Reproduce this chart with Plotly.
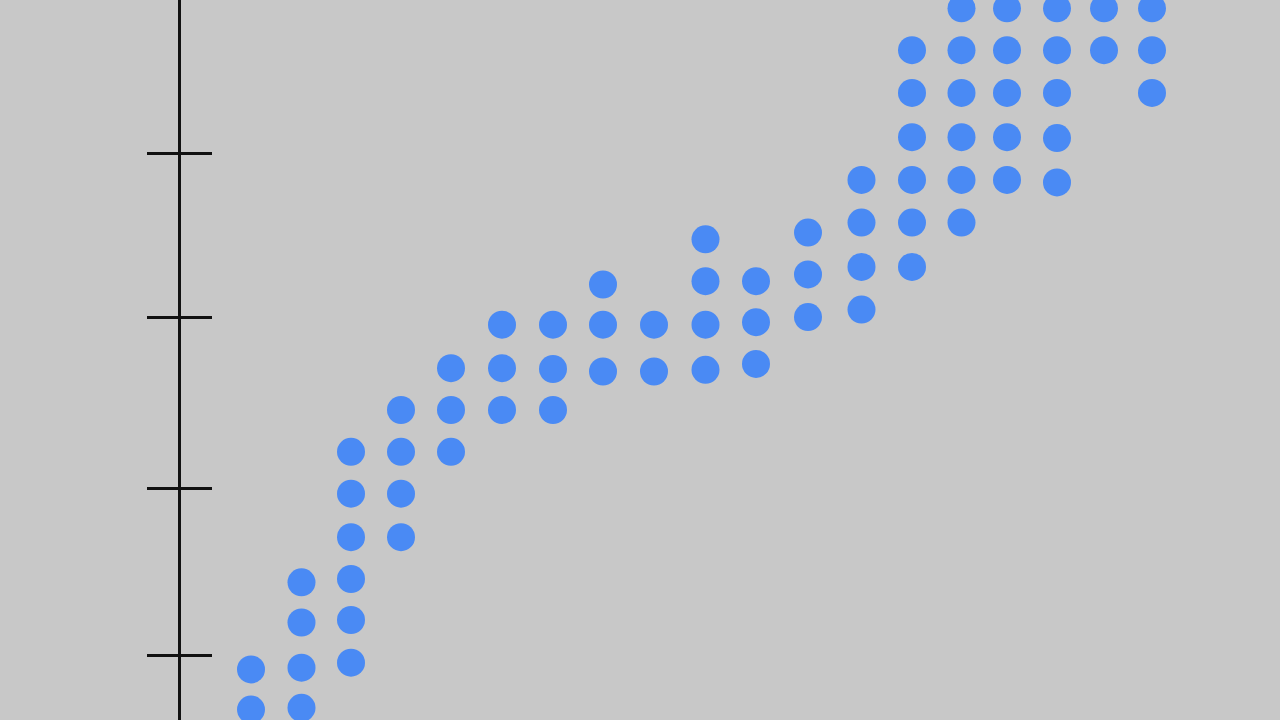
import plotly.graph_objects as go

# Column positions (x)
column_x = [1.0, 2.01, 3.0, 4.0, 5.0, 6.02, 7.04, 8.04, 9.06, 10.09,
            11.1, 12.14, 13.21, 14.22, 15.21, 16.12, 17.12, 18.06, 19.02]

# Dot values stacked in each column
column_values = [
    [6.8, 9.2],
    [6.9, 9.3, 12.0, 14.4],
    [9.6, 12.15, 14.6, 17.1, 19.7, 22.2],
    [17.1, 19.7, 22.2, 24.7],
    [22.2, 24.7, 27.2],
    [24.7, 27.2, 29.8],
    [24.7, 27.15, 29.8],
    [27.0, 29.8, 32.2],
    [27.0, 29.8],
    [27.1, 29.8, 32.4, 34.9],
    [27.45, 29.95, 32.4],
    [30.25, 32.8, 35.3],
    [30.7, 33.25, 35.9, 38.45],
    [33.25, 35.9, 38.45, 41.0, 43.65, 46.2],
    [35.9, 38.45, 41.0, 43.65, 46.2, 48.7],
    [38.45, 41.0, 43.65, 46.2, 48.7],
    [38.3, 40.95, 43.65, 46.2, 48.7],
    [46.2, 48.7],
    [43.65, 46.2, 48.7],
]

# Axis tick positions (no labels shown)
tick_values = [10, 20, 30.2, 40]

xs, ys = [], []
for cx, vals in zip(column_x, column_values):
    for v in vals:
        xs.append(cx)
        ys.append(v)

BG = "#c8c8c8"
DOT = "#4a8af4"
INK = "#111111"

fig = go.Figure()
fig.add_trace(go.Scatter(
    x=xs, y=ys, mode="markers",
    marker=dict(size=28, color=DOT, line=dict(width=0)),
    hoverinfo="skip", showlegend=False,
))
# empty trace so the overlaying axis (inner tick halves) is drawn
fig.add_trace(go.Scatter(
    x=[None], y=[None], mode="markers", yaxis="y2",
    hoverinfo="skip", showlegend=False,
))

axis_common = dict(
    range=[6.175, 49.2],
    autorange=False,
    tickvals=tick_values,
    showticklabels=False,
    showgrid=False,
    zeroline=False,
    ticklen=31,
    tickwidth=3,
    tickcolor=INK,
)

fig.update_layout(
    width=1280, height=720,
    margin=dict(l=0, r=0, t=0, b=0),
    paper_bgcolor=BG, plot_bgcolor=BG,
    showlegend=False,
    hovermode=False,
    xaxis=dict(domain=[181 / 1280, 1], range=[-0.4, 21.58], visible=False),
    yaxis=dict(**axis_common, ticks="outside", showline=True,
               linecolor=INK, linewidth=3),
    yaxis2=dict(**axis_common, ticks="inside", showline=False,
                overlaying="y", anchor="x", side="left"),
)

fig.write_html(
    "out.html",
    config={"displayModeBar": False, "staticPlot": True},
    post_script="document.body.style.margin='0';document.body.style.overflow='hidden';document.body.style.background='" + BG + "';",
)
